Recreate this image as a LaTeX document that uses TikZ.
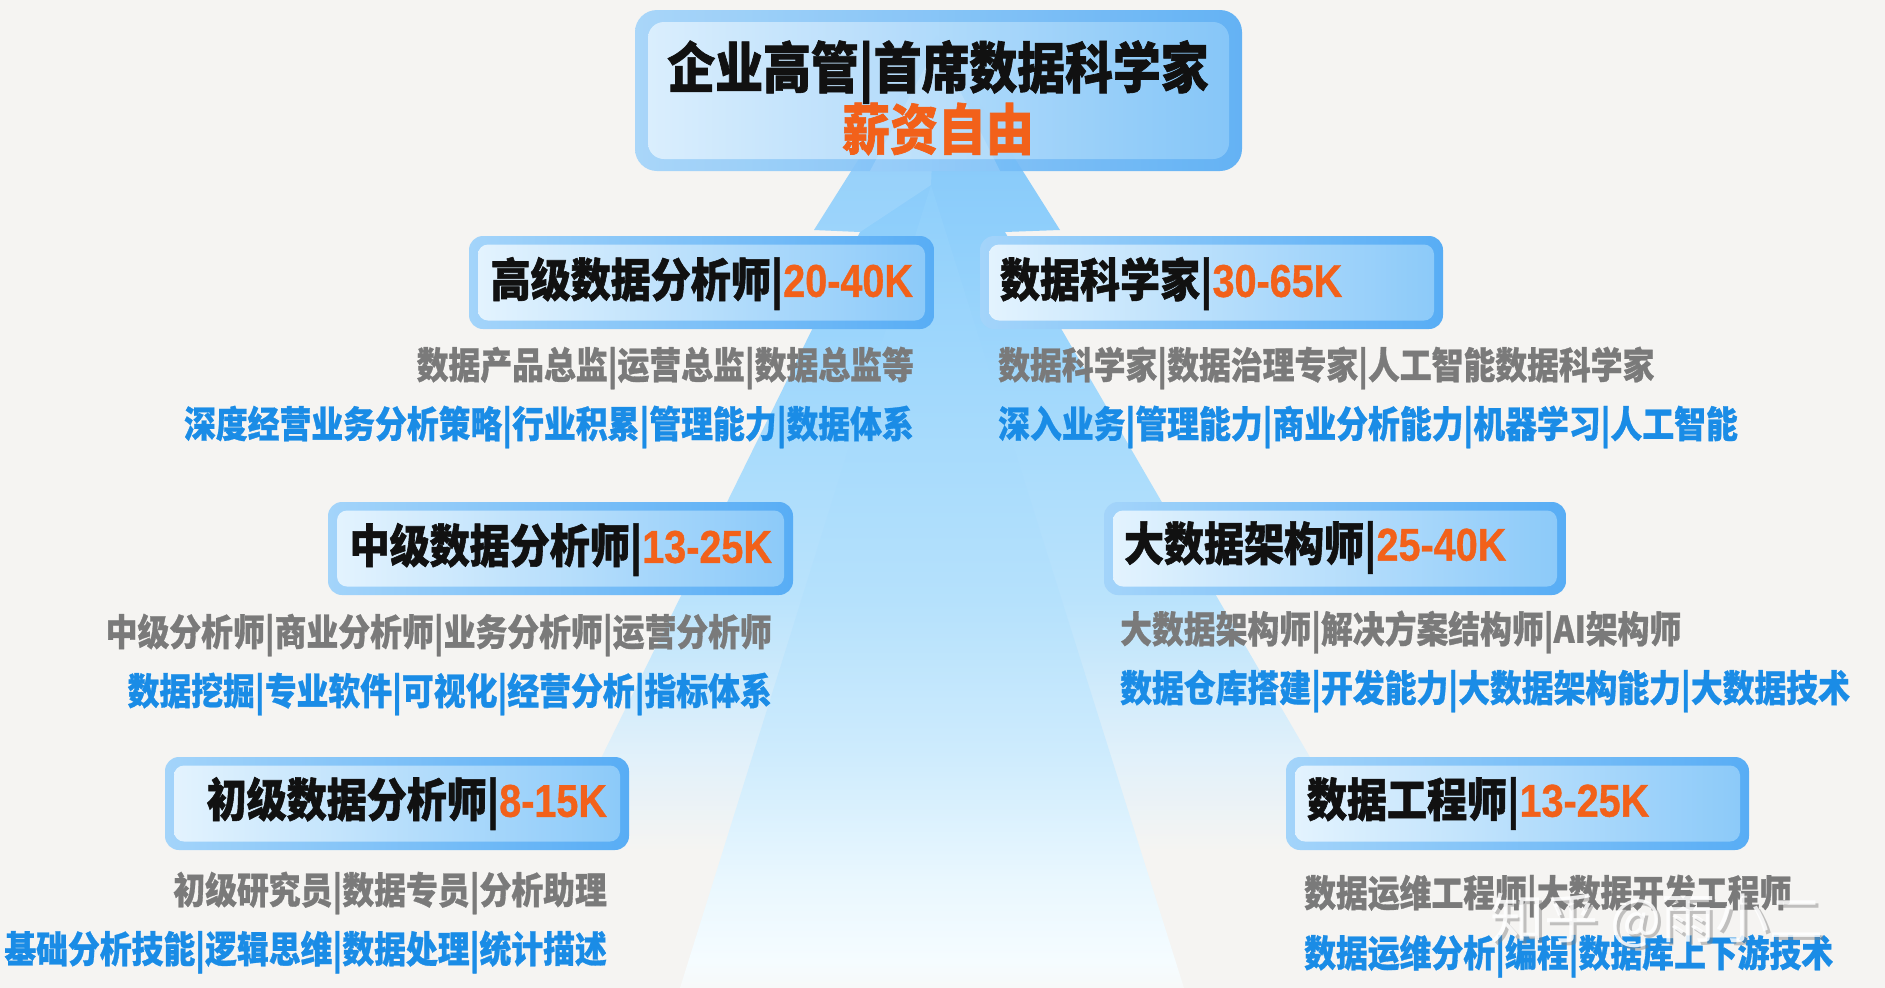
\documentclass[tikz,border=0pt]{standalone}
\usepackage{fontspec}
\newfontfamily\cjkt[FakeStretch=0.87,BoldFeatures={FakeBold=1.2}]{Noto Sans CJK SC}
\newfontfamily\cjk[FakeStretch=0.86,BoldFeatures={FakeBold=0.8}]{Noto Sans CJK SC}
\newfontfamily\cjkw{Noto Sans CJK SC}
\newfontfamily\numf[FakeStretch=0.86,BoldFeatures={FakeBold=0.8}]{Liberation Sans}
\definecolor{bg}{HTML}{F5F4F2}
\definecolor{orng}{HTML}{F2611A}
\definecolor{gtxt}{HTML}{7A7A7A}
\definecolor{btxt}{HTML}{1A8CE6}
\definecolor{ttl}{HTML}{111111}
\definecolor{boxL}{HTML}{A3D4FA}
\definecolor{boxR}{HTML}{58ADF5}
\definecolor{inL}{HTML}{E3F3FE}
\definecolor{inR}{HTML}{8CCAF9}
\definecolor{aa}{HTML}{7FC3F8}
\definecolor{ab}{HTML}{8FCFFB}
\definecolor{ac}{HTML}{A3D9FC}
\definecolor{ad}{HTML}{B5E1FC}
\definecolor{ae}{HTML}{CDEBFD}
\definecolor{af}{HTML}{E9F7FE}
\definecolor{ag}{HTML}{F5FCFF}
\definecolor{ah}{HTML}{F7F9F9}
\definecolor{ox}{HTML}{BAE3FC}
\definecolor{oy}{HTML}{E2F1FA}
% outer layer: fades into the background lower down
\pgfdeclareverticalshading{outershade}{100bp}{color(0bp)=(bg); color(32.2bp)=(bg); color(37bp)=(oy); color(45.4bp)=(ox); color(55.9bp)=(ac); color(64.7bp)=(ab); color(75bp)=(aa); color(100bp)=(aa)}
% inner layer: keeps its colour down to the bottom
\pgfdeclareverticalshading{innershade}{100bp}{color(0bp)=(ah); color(25bp)=(ah); color(26.7bp)=(ag); color(31.7bp)=(af); color(39.8bp)=(ae); color(49.2bp)=(ad); color(61.6bp)=(ac); color(75bp)=(ab); color(100bp)=(ab)}
\tikzset{
  outerbox/.style={rounded corners=14pt, left color=boxL, right color=boxR, draw=none, inner sep=0pt},
  innerbox/.style={rounded corners=10pt, left color=inL, right color=inR, draw=none, inner sep=0pt},
  boxtitle/.style={inner sep=0pt, font=\cjkt\bfseries\fontsize{46}{50}\selectfont, text=ttl},
  toptitle/.style={inner sep=0pt, font=\cjkt\bfseries\fontsize{55}{60}\selectfont, text=ttl},
  subg/.style={inner sep=0pt, font=\cjk\bfseries\fontsize{37}{40}\selectfont, text=gtxt},
  subb/.style={inner sep=0pt, font=\cjk\bfseries\fontsize{37}{40}\selectfont, text=btxt},
  wmark/.style={inner sep=0pt, font=\cjkw\fontsize{54}{58}\selectfont, text=white, opacity=0.85},
}
\newcommand\salary[1]{\textcolor{orng}{\numf\bfseries #1}}
\newcommand\skillbox[5]{%
  \node[outerbox, name=#1, minimum width=#4pt, minimum height=#5pt] at (#2,#3) {};
  \node[innerbox, name=#1in, minimum width=#4pt-18pt, minimum height=#5pt-17pt] at (#2,#3) {};
}
\begin{document}
\begin{tikzpicture}[x=1pt,y=-1pt]
\useasboundingbox (0,0) rectangle (1885,988);
\fill[bg] (0,0) rectangle (1885,988);

% big arrow
\shade[shading=outershade]
  (937,35) -- (1060,230) -- (1005,232) -- (1444,988) -- (488,988) -- (860,232) -- (814,230) -- cycle;
\shade[shading=innershade]
  (931,185) -- (1184,988) -- (680,988) -- cycle;
\fill[white, opacity=0.12] (937,35) -- (814,230) -- (860,232) -- (931,185) -- cycle;

% top box
\node[outerbox, rounded corners=22pt, name=top, minimum width=607pt, minimum height=161pt, opacity=0.92] at (938.5,90.5) {};
\node[innerbox, rounded corners=16pt, name=topin, minimum width=581pt, minimum height=137pt, opacity=0.85] at (938.5,90.5) {};
\fill[white, opacity=0.15] (937,45) -- (1000,171) -- (870,171) -- cycle;
\node[toptitle, name=t1] at (938,72) {企业高管|首席数据科学家};
\node[toptitle, text=orng, name=t2] at (938,129) {薪资自由};

% level boxes
\skillbox{b1}{701.5}{282.5}{465}{93}
\skillbox{b2}{1211.5}{282.5}{463}{93}
\skillbox{b3}{560.5}{548.5}{465}{93}
\skillbox{b4}{1335}{548.5}{462}{93}
\skillbox{b5}{397}{803.5}{464}{93}
\skillbox{b6}{1517.5}{803.5}{463}{93}

\node[boxtitle, anchor=east, name=b1t] at ([xshift=-21pt,yshift=-1pt]b1.east) {高级数据分析师|\salary{20-40K}};
\node[boxtitle, anchor=west, name=b2t] at ([xshift=20pt,yshift=-1pt]b2.west) {数据科学家|\salary{30-65K}};
\node[boxtitle, anchor=east, name=b3t] at ([xshift=-21pt,yshift=-1pt]b3.east) {中级数据分析师|\salary{13-25K}};
\node[boxtitle, anchor=west, name=b4t] at ([xshift=20pt,yshift=1pt]b4.west) {大数据架构师|\salary{25-40K}};
\node[boxtitle, anchor=east, name=b5t] at ([xshift=-22pt]b5.east) {初级数据分析师|\salary{8-15K}};
\node[boxtitle, anchor=west, name=b6t] at ([xshift=21pt]b6.west) {数据工程师|\salary{13-25K}};

% descriptions
\node[subg, anchor=east, name=l1g] at (914,368) {数据产品总监|运营总监|数据总监等};
\node[subb, anchor=east, name=l1b] at (914,427) {深度经营业务分析策略|行业积累|管理能力|数据体系};
\node[subg, anchor=west, name=r1g] at (998,368) {数据科学家|数据治理专家|人工智能数据科学家};
\node[subb, anchor=west, name=r1b] at (998,427) {深入业务|管理能力|商业分析能力|机器学习|人工智能};

\node[subg, anchor=east, name=l2g] at (772,635) {中级分析师|商业分析师|业务分析师|运营分析师};
\node[subb, anchor=east, name=l2b] at (772,694) {数据挖掘|专业软件|可视化|经营分析|指标体系};
\node[subg, anchor=west, name=r2g] at (1120,632) {大数据架构师|解决方案结构师|AI架构师};
\node[subb, anchor=west, name=r2b] at (1120,691) {数据仓库搭建|开发能力|大数据架构能力|大数据技术};

\node[subg, anchor=east, name=l3g] at (607,893) {初级研究员|数据专员|分析助理};
\node[subb, anchor=east, name=l3b] at (607,952) {基础分析技能|逻辑思维|数据处理|统计描述};
\node[subg, anchor=west, name=r3g] at (1304,896) {数据运维工程师|大数据开发工程师};
\node[subb, anchor=west, name=r3b] at (1304,956) {数据运维分析|编程|数据库上下游技术};

% watermark
\node[wmark, text=gray, opacity=0.45, anchor=west, name=wm0] at (1493,923) {知乎 @雨小二};
\node[wmark, anchor=west, name=wm] at (1490,920) {知乎 @雨小二};
\end{tikzpicture}
\end{document}
